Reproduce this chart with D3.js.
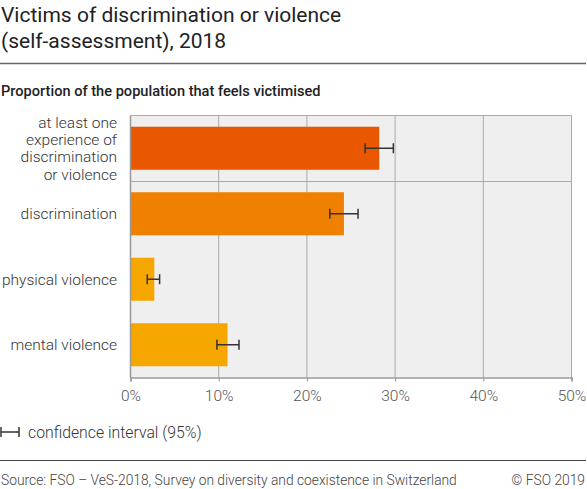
<!DOCTYPE html>
<html><head><meta charset="utf-8">
<script src="https://cdn.jsdelivr.net/npm/d3@7"></script>
<style>
body{margin:0;background:#fff;}
svg text{font-family:Roboto,"Noto Sans",sans-serif;}
</style></head>
<body>
<svg id="c" width="587" height="489"></svg>
<script>
const categories = [
  ["at least one","experience of","discrimination","or violence"],
  ["discrimination"],
  ["physical violence"],
  ["mental violence"]
];
const catKeys = ["total","discrimination","physical","mental"];
const values = [28.2, 24.2, 2.7, 11.0];
const ciLow = [26.6, 22.6, 1.9, 9.8];
const ciHigh = [29.8, 25.8, 3.3, 12.3];
const colors = ["#e95700","#f08000","#f5a700","#f5a700"];
const ticks = [0,10,20,30,40,50];

(function(){
const svg = d3.select("#c");
const pLeft = 130.5, pRight = 571.5, pTop = 115.5, pBottom = 377.5;

const x = d3.scaleLinear().domain([0,50]).range([pLeft,pRight]);
const y = d3.scaleBand().domain(catKeys).range([pTop,pBottom]).paddingInner(0.343).paddingOuter(0.1715);

// Title
const title = svg.append("text").attr("x",1).attr("fill","#222").style("font-size","21px");
title.append("tspan").attr("x",1).attr("y",22).text("Victims of discrimination or violence");
title.append("tspan").attr("x",1).attr("y",48).text("(self-assessment), 2018");
svg.append("line").attr("x1",0).attr("x2",586).attr("y1",63.5).attr("y2",63.5).attr("stroke","#666").attr("stroke-width",1.5);
svg.append("text").attr("x",1).attr("y",96).attr("fill","#222").style("font-size","14.6px").style("font-weight",500)
  .text("Proportion of the population that feels victimised");

// plot background
svg.append("rect").attr("x",pLeft).attr("y",pTop).attr("width",pRight-pLeft).attr("height",pBottom-pTop).attr("fill","#efefef");

// grid
svg.append("g").selectAll("line").data(ticks).join("line")
  .attr("x1",d=>x(d)).attr("x2",d=>x(d)).attr("y1",pTop).attr("y2",pBottom)
  .attr("stroke","#aaa").attr("stroke-width",1);
svg.append("line").attr("x1",pLeft).attr("x2",pRight).attr("y1",pTop).attr("y2",pTop).attr("stroke","#aaa");
const sepY = (y("total")+y.bandwidth()+y("discrimination"))/2;
svg.append("line").attr("x1",pLeft).attr("x2",pRight).attr("y1",Math.round(sepY)+0.5).attr("y2",Math.round(sepY)+0.5).attr("stroke","#aaa");

// bars
svg.append("g").selectAll("rect").data(catKeys).join("rect")
  .attr("x",x(0)+0.5).attr("y",d=>y(d))
  .attr("width",(d,i)=>x(values[i])-x(0)-0.5).attr("height",y.bandwidth())
  .attr("fill",(d,i)=>colors[i]);

// error bars
const eg = svg.append("g").attr("stroke","#333").attr("stroke-width",1.5);
catKeys.forEach((k,i)=>{
  const cy = y(k)+y.bandwidth()/2;
  eg.append("line").attr("x1",x(ciLow[i])).attr("x2",x(ciHigh[i])).attr("y1",cy).attr("y2",cy);
  eg.append("line").attr("x1",x(ciLow[i])).attr("x2",x(ciLow[i])).attr("y1",cy-5).attr("y2",cy+5);
  eg.append("line").attr("x1",x(ciHigh[i])).attr("x2",x(ciHigh[i])).attr("y1",cy-5).attr("y2",cy+5);
});

// axes
const xAxis = svg.append("g").attr("transform",`translate(0,${pBottom})`)
  .call(d3.axisBottom(x).tickValues(ticks).tickFormat(d=>d+"%").tickSize(4).tickPadding(8));
xAxis.select(".domain").attr("stroke","#999").attr("stroke-width",1.5);
xAxis.selectAll(".tick line").attr("stroke","#999");
xAxis.selectAll("text").attr("fill","#555").style("font-size","15.5px").style("font-weight",300).style("font-family","Roboto");
svg.append("line").attr("x1",pLeft).attr("x2",pLeft).attr("y1",pTop).attr("y2",pBottom).attr("stroke","#999").attr("stroke-width",1.5);

// category labels
const lh = 17.3;
catKeys.forEach((k,i)=>{
  const lines = categories[i];
  const cy = y(k)+y.bandwidth()/2;
  const t = svg.append("text").attr("text-anchor","end").attr("fill","#333")
    .style("font-size","15.5px").style("font-weight",300);
  lines.forEach((l,j)=>{
    t.append("tspan").attr("x",117).attr("y",cy + (j-(lines.length-1)/2)*lh + 5.5).text(l);
  });
});

// legend
const lg = svg.append("g").attr("stroke","#333").attr("stroke-width",1.5);
lg.append("line").attr("x1",1).attr("x2",19).attr("y1",432).attr("y2",432);
lg.append("line").attr("x1",1).attr("x2",1).attr("y1",427).attr("y2",437);
lg.append("line").attr("x1",19).attr("x2",19).attr("y1",427).attr("y2",437);
svg.append("text").attr("x",28).attr("y",437.5).attr("fill","#333").style("font-size","15.8px").style("font-weight",300)
  .text("confidence interval (95%)");

// footer
svg.append("line").attr("x1",0).attr("x2",586).attr("y1",460.5).attr("y2",460.5).attr("stroke","#444").attr("stroke-width",1);
svg.append("text").attr("x",1).attr("y",484.5).attr("fill","#444").style("font-size","13.8px").style("font-weight",300)
  .text("Source: FSO – VeS-2018, Survey on diversity and coexistence in Switzerland");
svg.append("text").attr("x",585).attr("y",484.5).attr("text-anchor","end").attr("fill","#444").style("font-size","13.8px").style("font-weight",300)
  .text("© FSO 2019");
})();
</script>
</body></html>
